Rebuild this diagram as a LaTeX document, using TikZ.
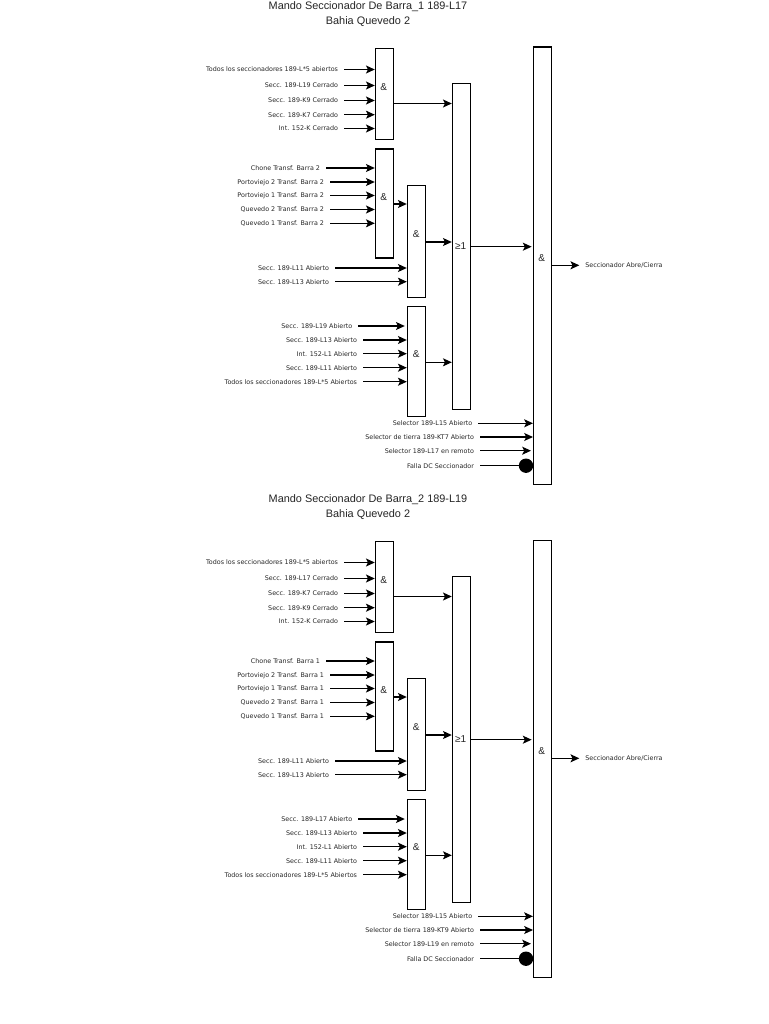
\documentclass[tikz,border=0pt]{standalone}
\usepackage{fontspec}
\setmainfont{Liberation Sans}
\newfontfamily\smallfont{DejaVu Sans}
\usetikzlibrary{arrows.meta}
\usetikzlibrary{positioning}
\tikzset{>={Stealth[length=6.6pt,width=6pt,inset=1.5pt]}}
\tikzstyle{gate} = [rectangle, draw=black, line width=.8pt, fill=white, inner sep=0pt, minimum width=13.8pt]
\tikzstyle{gatetxt} = [draw=none, inner sep=0pt, font=\fontsize{7.5}{8}\selectfont, text=black!85]
\tikzstyle{lbl} = [draw=none, inner sep=0pt, outer xsep=4.5pt, outer ysep=0pt, text height=4.6pt, text depth=.9pt, font=\smallfont\fontsize{4.78}{5}\selectfont, text=black!85]
\tikzstyle{titletxt} = [draw=none, inner sep=0pt, font=\fontsize{8.17}{10}\selectfont, text=black!85]
\tikzstyle{flow} = [->, draw=black, line width=.8pt]

\begin{document}
\begin{tikzpicture}[x=.75pt, y=-.75pt]
\path [use as bounding box, fill=white] (0,0) rectangle (768,1024);
\foreach \dy/\barnum/\own/\opp/\kone/\ktwo/\transf/\kt in {0/1/17/19/9/7/2/7, 493/2/19/17/7/9/1/9} {
\begin{scope}[shift={(0,\dy)}, name prefix=p\barnum-]
\node [titletxt] (t1) at (368, 6.8) {Mando Seccionador De Barra\_\barnum{} 189-L\own};
\node [titletxt] (t2) at (368, 21.5) {Bahia Quevedo 2};
% gates
\node [gate, minimum height=68pt] (a) at (384.5, 94) {};
\node [gate, minimum height=81.75pt] (b) at (384.5, 203.5) {};
\node [gate, minimum height=83.8pt] (c) at (416.5, 241.8) {};
\node [gate, minimum height=82.2pt] (d) at (416.5, 361.5) {};
\node [gate, minimum height=244.7pt] (e) at (461.5, 246.8) {};
\node [gate, minimum height=328pt] (f) at (542.7, 265.7) {};
\node [gatetxt] (atxt) at (383.7, 87) {\&};
\node [gatetxt] (btxt) at (383.7, 196.7) {\&};
\node [gatetxt] (ctxt) at (416.3, 234.3) {\&};
\node [gatetxt] (dtxt) at (416.3, 354) {\&};
\node [gatetxt] (etxt) at (460.7, 245.7) {≥1};
\node [gatetxt] (ftxt) at (541.7, 258.3) {\&};
% inputs
\foreach \rowname/\rowtxt/\rowx/\rowy/\rowbox/\rowgap in {
  a1/Todos los seccionadores 189-L*5 abiertos/344/69.5/a/0,
  a2/Secc. 189-L\opp{} Cerrado/344/85.5/a/0,
  a3/Secc. 189-K\kone{} Cerrado/344/100.5/a/0,
  a4/Secc. 189-K\ktwo{} Cerrado/344/114.7/a/0,
  a5/Int. 152-K Cerrado/344/128.5/a/0,
  b1/Chone Transf. Barra \transf/326/168/b/0,
  b2/Portoviejo 2 Transf. Barra \transf/330/182/b/0,
  b3/Portoviejo 1 Transf. Barra \transf/330/195.5/b/0,
  b4/Quevedo 2 Transf. Barra \transf/330/209.5/b/0,
  b5/Quevedo 1 Transf. Barra \transf/330/223.3/b/0,
  c1/Secc. 189-L11 Abierto/335/268/c/0,
  c2/Secc. 189-L13 Abierto/335/281.7/c/0,
  d1/Secc. 189-L\opp{} Abierto/358.3/326/d/1.5,
  d2/Secc. 189-L13 Abierto/363/340/d/0,
  d3/Int. 152-L1 Abierto/363/353.7/d/0,
  d4/Secc. 189-L11 Abierto/363/367.7/d/0,
  d5/Todos los seccionadores 189-L*5 Abiertos/363/381.7/d/0,
  f1/Selector 189-L15 Abierto/478.3/423.3/f/0,
  f2/Selector de tierra 189-KT\kt{} Abierto/480/437/f/0,
  f3/Selector 189-L\own{} en remoto/480/450.7/f/1.5} {
\node [lbl, anchor=east] (\rowname) at (\rowx, \rowy) {\rowtxt};
\draw [flow, shorten >=\rowgap pt] (\rowname.east) -- (\rowname.east -| \rowbox.west);
}
\node [lbl, anchor=east] (f4) at (480, 465.7) {Falla DC Seccionador};
\node [circle, fill=black, inner sep=0pt, minimum size=10.8pt] (dot) at (526, 465.7) {};
\draw [draw=black, line width=.8pt] (f4.east) -- (dot);
% between gates
\coordinate (ay) at (0, 103.5);
\coordinate (by) at (0, 204);
\coordinate (cy) at (0, 242);
\coordinate (dy) at (0, 362.3);
\coordinate (ey) at (0, 246.7);
\coordinate (fy) at (0, 265.3);
\draw [flow] (ay -| a.east) -- (ay -| e.west);
\draw [flow] (by -| b.east) -- (by -| c.west);
\draw [flow] (cy -| c.east) -- (cy -| e.west);
\draw [flow] (dy -| d.east) -- (dy -| e.west);
\draw [flow, shorten >=1pt] (ey -| e.east) -- (ey -| f.west);
\node [lbl, anchor=west] (out) at (579.3, 265.3) {Seccionador Abre/Cierra};
\draw [flow] (fy -| f.east) -- (out.west);
\end{scope}
}
\end{tikzpicture}
\end{document}
